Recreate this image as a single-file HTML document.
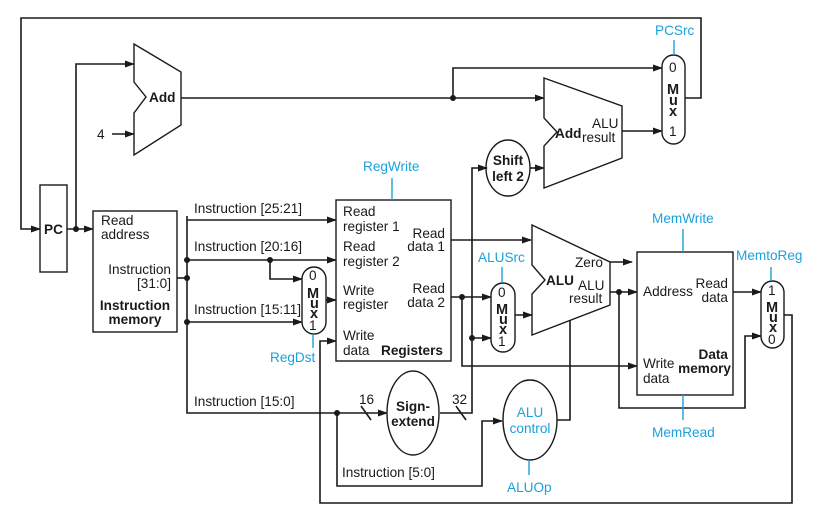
<!DOCTYPE html>
<html><head><meta charset="utf-8"><style>
html,body{margin:0;padding:0;background:#fff;}
svg{display:block;}
text{font-family:"Liberation Sans",Arial,sans-serif;font-size:13.6px;fill:#1a1a1a;}
.b{font-weight:bold;}
.m{font-weight:bold;font-size:14.5px;}
.c{fill:#1ba1dc;}
.w{fill:none;stroke:#1a1a1a;stroke-width:1.6;}
.s{fill:#fff;stroke:#1a1a1a;stroke-width:1.4;}
.cl{stroke:#1ba1dc;stroke-width:1.4;fill:none;}
</style></head><body>
<svg width="834" height="515" viewBox="0 0 834 515" xmlns="http://www.w3.org/2000/svg">
<defs><marker id="a" markerWidth="10" markerHeight="8" refX="9" refY="4" orient="auto" markerUnits="userSpaceOnUse"><path d="M0,0.5 L10,4 L0,7.5 z" fill="#1a1a1a"/></marker></defs>

<polyline class="w" points="685,98 701,98 701,18 21,18 21,229 40,229" marker-end="url(#a)"/>
<rect class="s" x="40" y="185" width="27" height="87"/>
<text class="b" x="44" y="234">PC</text>
<line class="w" x1="67" y1="229" x2="93" y2="229" marker-end="url(#a)"/>
<polyline class="w" points="76,229 76,64 134,64" marker-end="url(#a)"/>
<circle cx="76" cy="229" r="3" fill="#1a1a1a"/>
<polygon class="s" points="134,44 181,72 181,125 134,155 134,113 146,97 134,82"/>
<text class="b" x="149" y="102">Add</text>
<text x="97" y="139">4</text>
<line class="w" x1="112" y1="134" x2="134" y2="134" marker-end="url(#a)"/>
<line class="w" x1="181" y1="98" x2="544" y2="98" marker-end="url(#a)"/>
<polyline class="w" points="453,98 453,68 662,68" marker-end="url(#a)"/>
<circle cx="453" cy="98" r="3" fill="#1a1a1a"/>
<polygon class="s" points="544,78 622,106 622,158 544,188 544,146 557,132 544,118"/>
<text class="b" x="555" y="138">Add</text>
<text x="592" y="128">ALU</text>
<text x="582" y="142">result</text>
<line class="w" x1="622" y1="131" x2="662" y2="131" marker-end="url(#a)"/>
<rect class="s" x="662" y="55" width="23" height="89" rx="11.5"/>
<text x="669" y="72">0</text>
<text class="m" x="667" y="94">M</text><text class="m" x="669" y="105">u</text><text class="m" x="669" y="116">x</text>
<text x="669" y="136">1</text>
<text class="c" x="655" y="35">PCSrc</text>
<line class="cl" x1="674" y1="40" x2="674" y2="55"/>
<ellipse class="s" cx="508" cy="168" rx="22" ry="28"/>
<text class="b" x="508" y="165" text-anchor="middle">Shift</text>
<text class="b" x="508" y="181" text-anchor="middle">left 2</text>
<line class="w" x1="530" y1="168" x2="544" y2="168" marker-end="url(#a)"/>
<polyline class="w" points="440,413 472,413 472,168 487,168" marker-end="url(#a)"/>
<line class="w" x1="456" y1="406" x2="466" y2="420"/>
<text x="452" y="404">32</text>

<rect class="s" x="93" y="211" width="84" height="121"/>
<text x="101" y="225">Read</text>
<text x="101" y="239">address</text>
<text x="171" y="274" text-anchor="end">Instruction</text>
<text x="171" y="288" text-anchor="end">[31:0]</text>
<text class="b" x="135" y="310" text-anchor="middle">Instruction</text>
<text class="b" x="135" y="324" text-anchor="middle">memory</text>
<line class="w" x1="177" y1="278" x2="187" y2="278"/>
<polyline class="w" points="187,216 187,413 387,413" marker-end="url(#a)"/>
<polyline class="w" points="187,220 336,220" marker-end="url(#a)"/>
<line class="w" x1="187" y1="260" x2="336" y2="260" marker-end="url(#a)"/>
<polyline class="w" points="270,260 270,279 302,279" marker-end="url(#a)"/>
<line class="w" x1="187" y1="322" x2="302" y2="322" marker-end="url(#a)"/>
<circle cx="187" cy="260" r="3" fill="#1a1a1a"/>
<circle cx="187" cy="278" r="3" fill="#1a1a1a"/>
<circle cx="187" cy="322" r="3" fill="#1a1a1a"/>
<circle cx="270" cy="260" r="3" fill="#1a1a1a"/>
<text x="194" y="213">Instruction [25:21]</text>
<text x="194" y="251">Instruction [20:16]</text>
<text x="194" y="314">Instruction [15:11]</text>
<text x="194" y="406">Instruction [15:0]</text>
<line class="w" x1="361" y1="406" x2="371" y2="420"/>
<text x="359" y="404">16</text>
<rect class="s" x="302" y="267" width="24" height="67" rx="12"/>
<text x="309" y="280">0</text>
<text class="m" x="307" y="298">M</text><text class="m" x="310" y="308">u</text><text class="m" x="310" y="318">x</text>
<text x="309" y="330">1</text>
<line class="cl" x1="313" y1="334" x2="313" y2="348"/>
<text class="c" x="270" y="362">RegDst</text>
<line class="w" x1="326" y1="300" x2="336" y2="300" marker-end="url(#a)"/>
<rect class="s" x="336" y="200" width="115" height="161"/>
<text class="c" x="363" y="171">RegWrite</text>
<line class="cl" x1="392" y1="178" x2="392" y2="200"/>
<text x="343" y="216">Read</text>
<text x="343" y="231">register 1</text>
<text x="343" y="251">Read</text>
<text x="343" y="266">register 2</text>
<text x="343" y="295">Write</text>
<text x="343" y="309">register</text>
<text x="343" y="340">Write</text>
<text x="343" y="355">data</text>
<text class="b" x="381" y="355">Registers</text>
<text x="445" y="238" text-anchor="end">Read</text>
<text x="445" y="251" text-anchor="end">data 1</text>
<text x="445" y="293" text-anchor="end">Read</text>
<text x="445" y="307" text-anchor="end">data 2</text>
<polyline class="w" points="782,315 792,315 792,503 320,503 320,341 336,341" marker-end="url(#a)"/>
<line class="w" x1="451" y1="240" x2="531" y2="240" marker-end="url(#a)"/>
<line class="w" x1="451" y1="297" x2="491" y2="297" marker-end="url(#a)"/>
<polyline class="w" points="462,297 462,366 637,366" marker-end="url(#a)"/>
<circle cx="462" cy="297" r="3" fill="#1a1a1a"/>
<line class="w" x1="472" y1="338" x2="491" y2="338" marker-end="url(#a)"/>
<circle cx="472" cy="338" r="3" fill="#1a1a1a"/>
<ellipse class="s" cx="413" cy="413" rx="26" ry="42"/>
<text class="b" x="413" y="411" text-anchor="middle">Sign-</text>
<text class="b" x="413" y="426" text-anchor="middle">extend</text>
<polyline class="w" points="337,413 337,486 482,486 482,421 502,421" marker-end="url(#a)"/>
<circle cx="337" cy="413" r="3" fill="#1a1a1a"/>
<text x="342" y="477">Instruction [5:0]</text>
<rect class="s" x="491" y="283" width="24" height="69" rx="12"/>
<text x="498" y="297">0</text>
<text class="m" x="496" y="314">M</text><text class="m" x="499" y="324">u</text><text class="m" x="499" y="334">x</text>
<text x="498" y="346">1</text>
<text class="c" x="478" y="262">ALUSrc</text>
<line class="cl" x1="502" y1="267" x2="502" y2="283"/>
<line class="w" x1="515" y1="315" x2="532" y2="315" marker-end="url(#a)"/>
<polygon class="s" points="532,225 610,262 610,305 532,335 532,294 545,280 532,265"/>
<text class="b" x="546" y="285">ALU</text>
<text x="575" y="267">Zero</text>
<text x="578" y="290">ALU</text>
<text x="569" y="303">result</text>
<line class="w" x1="610" y1="262" x2="632" y2="262" marker-end="url(#a)"/>
<line class="w" x1="610" y1="292" x2="637" y2="292" marker-end="url(#a)"/>
<polyline class="w" points="619,292 619,408 745,408 745,336 761,336" marker-end="url(#a)"/>
<circle cx="619" cy="292" r="3" fill="#1a1a1a"/>
<ellipse class="s" cx="530" cy="420" rx="27" ry="40"/>
<text class="c" x="530" y="417" text-anchor="middle">ALU</text>
<text class="c" x="530" y="433" text-anchor="middle">control</text>
<line class="cl" x1="529" y1="460" x2="529" y2="475"/>
<text class="c" x="507" y="492">ALUOp</text>
<polyline class="w" points="557,420 570,420 570,320"/>
<rect class="s" x="637" y="252" width="96" height="143"/>
<text class="c" x="652" y="223">MemWrite</text>
<line class="cl" x1="683" y1="229" x2="683" y2="252"/>
<text class="c" x="652" y="437">MemRead</text>
<line class="cl" x1="683" y1="395" x2="683" y2="420"/>
<text x="643" y="296">Address</text>
<text x="728" y="288" text-anchor="end">Read</text>
<text x="728" y="302" text-anchor="end">data</text>
<text class="b" x="728" y="359" text-anchor="end">Data</text>
<text class="b" x="731" y="373" text-anchor="end">memory</text>
<text x="643" y="368">Write</text>
<text x="643" y="383">data</text>
<line class="w" x1="733" y1="292" x2="761" y2="292" marker-end="url(#a)"/>
<rect class="s" x="761" y="281" width="23" height="67" rx="11.5"/>
<text x="768" y="295">1</text>
<text class="m" x="766" y="312">M</text><text class="m" x="769" y="322">u</text><text class="m" x="769" y="332">x</text>
<text x="768" y="344">0</text>
<text class="c" x="736" y="260">MemtoReg</text>
<line class="cl" x1="771" y1="267" x2="771" y2="281"/>
</svg>
</body></html>
